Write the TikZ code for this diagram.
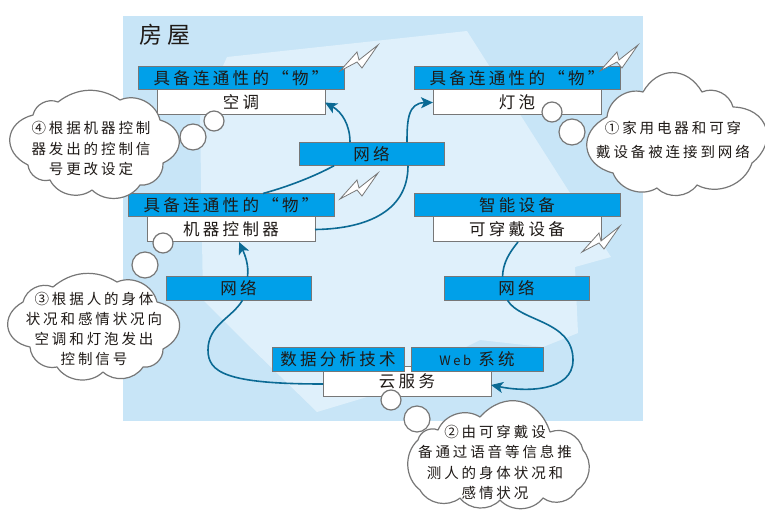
\documentclass[tikz,border=0pt]{standalone}
\usepackage{fontspec}
\usepackage{xcolor}
\usetikzlibrary{arrows.meta, positioning}
\setmainfont[LetterSpace=20]{Noto Sans CJK SC}
\definecolor{darktext}{HTML}{1F1A17}
\definecolor{housecolor}{HTML}{C8E5F7}
\definecolor{lightcolor}{HTML}{DFF0FB}
\definecolor{headcolor}{HTML}{00A0E9}
\definecolor{edgecolor}{HTML}{777777}
\definecolor{linkcolor}{HTML}{0B6A94}

\begin{document}
\begin{tikzpicture}[
    x=1pt, y=-1pt,
    every node/.style={text=darktext, outer sep=0pt, inner sep=0pt},
    head/.style={rectangle, draw=edgecolor, fill=headcolor, line width=1pt,
                minimum width=#1, minimum height=23.5pt, font=\fontsize{16.5}{18}\selectfont},
    body/.style={rectangle, draw=edgecolor, fill=white, line width=1pt,
                minimum width=#1, minimum height=25pt, font=\fontsize{16.5}{18}\selectfont},
    bubble/.style={circle, draw=edgecolor, fill=white, line width=1.2pt, minimum size=#1},
    outline/.style={draw=edgecolor, fill=white, line width=1.2pt, line join=round},
    flatpuff/.style={bend left=36},
    puff/.style={bend left=50},
    midpuff/.style={bend left=60, looseness=1.3},
    bigpuff/.style={bend left=70, looseness=1.5},
    note/.style={align=center, font=\fontsize{14.5}{20.3}\selectfont},
    bolt/.style={draw=edgecolor, fill=white, line width=0.8pt, line join=miter},
    link/.style={draw=linkcolor, line width=1.6pt},
    arrow/.style={link, -{Stealth[length=12pt, width=11pt, inset=3pt]}}
]
\useasboundingbox (0,0) rectangle (765,521);

% house
\fill[housecolor] (123,16) rectangle (643,421);
\fill[lightcolor] (227,57) -- (467,31) -- (570,193) -- (611,257) -- (575,267) -- (578,333)
    -- (543,347) -- (480,340) -- (367,397) -- (317,412) -- (243,340) -- (203,300) -- (200,117) -- cycle;
\node[font=\fontsize{23}{26}\selectfont] (house) at (165,35) {房屋};

% things
\node[body=168pt] (aircon) at (241,102.5) {空调};
\node[head=206pt, above=0pt of aircon] (aircontitle) {具备连通性的“物”};
\node[body=168pt] (lamp) at (517,102.5) {灯泡};
\node[head=206pt, above=0pt of lamp] (lamptitle) {具备连通性的“物”};
\node[body=168pt] (controller) at (231,229.5) {机器控制器};
\node[head=206pt, above=0pt of controller] (controllertitle) {具备连通性的“物”};
\node[body=168pt] (wearable) at (517,229.5) {可穿戴设备};
\node[head=206pt, above=0pt of wearable] (wearabletitle) {智能设备};

% network
\node[head=145pt] (netmid) at (371.5,154) {网络};
\node[head=145pt] (netleft) at (238.5,288.5) {网络};
\node[head=145pt] (netright) at (516.5,288.5) {网络};

% cloud service
\node[body=168pt, minimum height=30pt] (service) at (407,381) {\raisebox{-4pt}{云服务}};
\node[head=132pt] (analysis) at (338,359.5) {数据分析技术};
\node[head=132pt] (web) at (477,359.5) {{\fontsize{13}{18}\selectfont Web} 系统};

% links
\draw[arrow] ([xshift=51pt]netmid.north west) .. controls (350,125) and (342,112) .. (aircon.east);
\draw[link] ([xshift=35pt]netmid.south west) .. controls (315,176) and (290,186) .. ([xshift=135pt]controllertitle.north west);
\draw[link] (controller.east) .. controls (360,229) and (408,215) .. ([xshift=109pt]netmid.south west);
\draw[arrow] ([xshift=108pt]netmid.north west) .. controls (407,120) and (408,103) .. (lamp.west);
\draw[arrow] ([xshift=9pt]netleft.north) .. controls (249,265) and (245,255) .. ([xshift=8pt]controller.south);
\draw[link] ([xshift=4pt]netleft.south) .. controls (232,318) and (208,325) .. (208,350)
    .. controls (208,372) and (225,384) .. ([yshift=-3pt]service.west);
\draw[link] ([xshift=1pt]wearable.south) .. controls (510,252) and (503,262) .. ([xshift=-14pt]netright.north);
\draw[arrow] ([xshift=-9pt]netright.south) .. controls (520,322) and (573,320) .. (573,360)
    .. controls (573,392) and (525,392) .. ([yshift=-4pt]service.east);

% lightning
\foreach \x/\y in {340/71, 600/71, 340/199, 582/252}
    \draw[bolt, shift={(\x,\y)}] (0,0) -- (17,-19) -- (19,-11) -- (38,-26) -- (22,-3) -- (17,-9) -- cycle;

% thoughts
\node[bubble=20pt] (bubblea) at (552,112) {};
\node[bubble=26pt] (bubbleb) at (572,132) {};
\draw[outline] (643,92) to[midpuff] (702,92) to[puff] (733,107) to[bigpuff] (752,163) to[puff] (697,185)
    to[puff] (657,188) to[puff] (613,173) to[bigpuff] (607,117) to[puff] (643,92) -- cycle;
\node[note, font=\fontsize{14.5}{24}\selectfont] (noteone) at (673,140) {①家用电器和可穿\\戴设备被连接到网络};

\node[bubble=20pt] (bubblec) at (391,400) {};
\node[bubble=26pt] (bubbled) at (417,419) {};
\draw[outline] (438,430) to[puff] (480,417) to[midpuff] (550,432) to[puff] (583,450) to[puff] (577,490)
    to[puff] (543,498) to[puff] (500,500) to[puff] (460,498) to[puff] (420,490) to[puff] (418,440) to[puff] (438,430) -- cycle;
\node[note] (notetwo) at (495,462.5) {②由可穿戴设\\备通过语音等信息推\\测人的身体状况和\\感情状况};

\node[bubble=20pt] (bubblee) at (163,243) {};
\node[bubble=26pt] (bubblef) at (145,265) {};
\draw[outline] (53,287) to[flatpuff] (117,282) to[puff] (157,302) to[bigpuff] (163,349) to[puff] (143,367)
    to[puff] (103,372) to[puff] (57,367) to[puff] (30,347) to[bigpuff] (23,302) to[puff] (53,287) -- cycle;
\node[note] (notethree) at (94,329) {③根据人的身体\\状况和感情状况向\\空调和灯泡发出\\控制信号};

\node[bubble=20pt] (bubbleg) at (214,121) {};
\node[bubble=26pt] (bubbleh) at (193,137) {};
\draw[outline] (58,102) to[flatpuff] (120,100) to[puff] (160,120) to[bigpuff] (163,163) to[puff] (140,185)
    to[puff] (92,190) to[puff] (50,180) to[puff] (28,165) to[bigpuff] (33,115) to[puff] (58,102) -- cycle;
\node[note] (notefour) at (91,148.5) {④根据机器控制\\器发出的控制信\\号更改设定};
\end{tikzpicture}
\end{document}
